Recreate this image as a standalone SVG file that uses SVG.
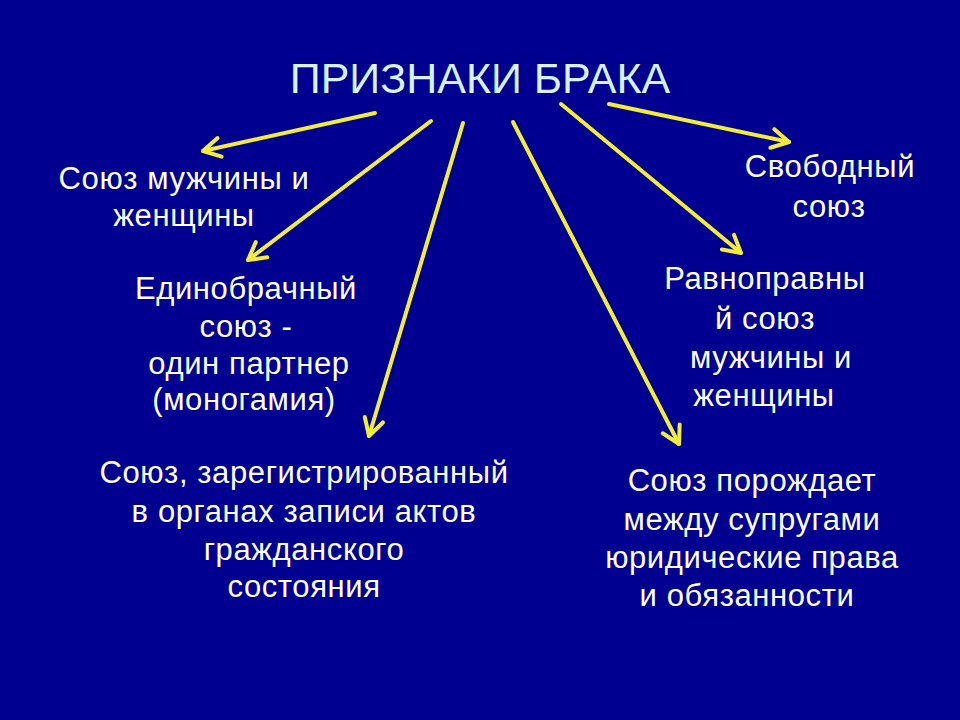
<svg xmlns="http://www.w3.org/2000/svg" width="960" height="720" viewBox="0 0 960 720">
<defs>
<marker id="ah" viewBox="0 0 24 24" refX="21" refY="12" markerWidth="24" markerHeight="24" markerUnits="userSpaceOnUse" orient="auto">
<path d="M4,2.5 L21,12 L4,21.5" fill="none" stroke="#f2ec3a" stroke-width="4" stroke-linecap="round" stroke-linejoin="round"/>
</marker>
<style>
.t{font-family:"Liberation Sans",Arial,sans-serif;font-size:31px;letter-spacing:0.6px;fill:#ffffff;text-anchor:middle}
.title{font-family:"Liberation Sans",Arial,sans-serif;font-size:43px;fill:#d6f2ff;text-anchor:middle}
.c{stroke:#f2ec3a;stroke-width:4;fill:none;stroke-linecap:round;marker-end:url(#ah)}
</style>
</defs>
<rect width="960" height="720" fill="#000090"/>
<g id="title"><text class="title" x="480" y="93">ПРИЗНАКИ БРАКА</text></g>
<g id="connectors">
<line class="c" x1="375" y1="113" x2="203" y2="151"/>
<line class="c" x1="431" y1="121" x2="248" y2="260"/>
<line class="c" x1="463" y1="123" x2="369" y2="436"/>
<line class="c" x1="513" y1="122" x2="679" y2="444"/>
<line class="c" x1="561" y1="104" x2="741" y2="253"/>
<line class="c" x1="609" y1="104" x2="789" y2="142"/>
</g>
<g id="n1"><text class="t" x="184" y="189">Союз мужчины и</text><text class="t" x="184" y="226">женщины</text></g>
<g id="n2"><text class="t" x="246" y="299">Единобрачный</text><text class="t" x="246" y="337">союз -</text><text class="t" x="249" y="374">один партнер</text><text class="t" x="244" y="410">(моногамия)</text></g>
<g id="n3"><text class="t" x="304" y="483">Союз, зарегистрированный</text><text class="t" x="304" y="522">в органах записи актов</text><text class="t" x="304" y="560">гражданского</text><text class="t" x="304" y="597">состояния</text></g>
<g id="n4"><text class="t" x="752" y="491">Союз порождает</text><text class="t" x="752" y="530">между супругами</text><text class="t" x="752" y="568">юридические права</text><text class="t" x="747" y="606">и обязанности</text></g>
<g id="n5"><text class="t" x="765" y="289">Равноправны</text><text class="t" x="765" y="329">й союз</text><text class="t" x="771" y="368">мужчины и</text><text class="t" x="764" y="406">женщины</text></g>
<g id="n6"><text class="t" x="830" y="177">Свободный</text><text class="t" x="829" y="217">союз</text></g>
</svg>
